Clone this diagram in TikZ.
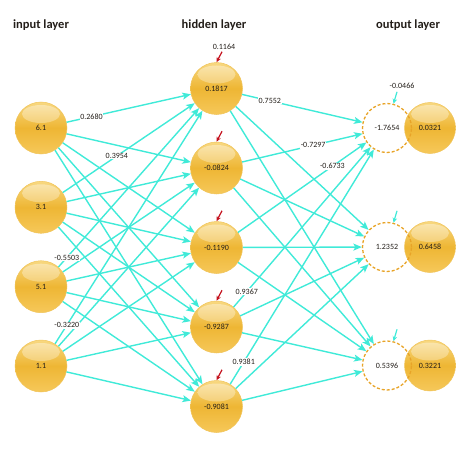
\documentclass[tikz,border=0pt]{standalone}
\usepackage{fontspec}
\setmainfont{Carlito}
\usetikzlibrary{arrows.meta}
\definecolor{cy}{RGB}{64,234,216}
\definecolor{balltop}{RGB}{248,216,128}
\definecolor{ballmid}{RGB}{238,182,52}
\definecolor{ballbot}{RGB}{246,200,90}
\definecolor{ballrim}{RGB}{240,196,90}
\definecolor{dashor}{RGB}{232,164,40}
\definecolor{biasred}{RGB}{196,18,30}
\definecolor{ink}{RGB}{35,30,25}
\begin{document}
\begin{tikzpicture}[x=1pt,y=-1pt,
  ball/.style={circle, minimum size=52pt, inner sep=0pt, draw=ballrim, line width=0.5pt,
    top color=balltop, bottom color=ballbot, middle color=ballmid,
    font=\fontsize{8}{9}\selectfont, text=ink,
    path picture={\shade[top color=white, bottom color=balltop, opacity=0.4]
      ([yshift=14pt]path picture bounding box.center) ellipse (19pt and 9pt);}},
  sumnode/.style={circle, minimum size=49pt, inner sep=0pt, draw=dashor, line width=1.3pt,
    dash pattern=on 3pt off 2pt, font=\fontsize{8}{9}\selectfont, text=ink},
  link/.style={draw=cy, line width=1.4pt, -{Stealth[length=8.5pt,width=7pt,inset=2pt]}},
  wlabel/.style={fill=white, inner sep=0.8pt, font=\fontsize{8}{9}\selectfont, text=ink},
  blabel/.style={inner sep=0.8pt, font=\fontsize{8}{9}\selectfont, text=ink},
  biasr/.style={draw=biasred, line width=1.2pt, -{Stealth[length=5pt,width=4.5pt]}},
  biasc/.style={draw=cy, line width=1.2pt, -{Stealth[length=5pt,width=4.5pt]}},
  title/.style={font=\fontsize{12.5}{14}\selectfont\bfseries, text=ink, anchor=base}
]
\useasboundingbox (0,0) rectangle (474,452);

% titles
\node[title] (t1) at (41,28.5) {input layer};
\node[title] (t2) at (214,28.5) {hidden layer};
\node[title] (t3) at (408,28.5) {output layer};

% input layer
\node[ball] (in1) at (41,128) {6.1};
\node[ball] (in2) at (41,207.3) {3.1};
\node[ball] (in3) at (41,286.7) {5.1};
\node[ball] (in4) at (41,366) {1.1};

% hidden layer
\node[ball] (h1) at (216.5,88.5) {0.1817};
\node[ball] (h2) at (216.5,168) {-0.0824};
\node[ball] (h3) at (216.5,247.5) {-0.1190};
\node[ball] (h4) at (216.5,327) {-0.9287};
\node[ball] (h5) at (216.5,406.5) {-0.9081};

% output layer
\node[ball, minimum size=51pt] (p1) at (430,128) {0.0321};
\node[ball, minimum size=51pt] (p2) at (430,247) {0.6458};
\node[ball, minimum size=51pt] (p3) at (430,365.5) {0.3221};
\node[sumnode] (o1) at (387,128) {-1.7654};
\node[sumnode] (o2) at (387,247) {1.2352};
\node[sumnode] (o3) at (387,365.5) {0.5396};

% connections
\foreach \i in {1,...,4}
  \foreach \j in {1,...,5}
    \draw[link] (in\i) -- (h\j);
\foreach \j in {1,...,5}
  \foreach \k in {1,...,3}
    \draw[link] (h\j) -- (o\k);

% weight labels
\path (in1) -- node[wlabel, pos=0.2] {0.2680} (h1);
\path (in2) -- node[wlabel, pos=0.41] {0.3954} (h1);
\path (in3) -- node[wlabel, pos=0.06] {-0.5503} (h1);
\path (in4) -- node[wlabel, pos=0.08] {-0.3220} (h1);
\path (h1) -- node[wlabel, pos=0.23] {0.7552} (o1);
\path (h2) -- node[wlabel, pos=0.59] {-0.7297} (o1);
\path (h3) -- node[wlabel, pos=0.735] {-0.6733} (o1);
\path (h4) -- node[wlabel, pos=0.096] {0.9367} (o1);
\path (h5) -- node[wlabel, pos=0.094] {0.9381} (o1);

% hidden biases
\node[blabel] (bl1) at (224,47) {0.1164};
\foreach \j in {1,...,5} {
  \coordinate (bs\j) at ([xshift=5.5pt,yshift=10.5pt]h\j.north);
  \draw[biasr] (bs\j) -- (h\j.north);
}

% output biases
\node[blabel] (bl2) at (402,86) {-0.0466};
\foreach \k in {1,...,3} {
  \coordinate (cs\k) at ([xshift=10pt,yshift=11pt]o\k.north);
  \draw[biasc] (cs\k) -- (o\k.75);
}
\end{tikzpicture}
\end{document}
